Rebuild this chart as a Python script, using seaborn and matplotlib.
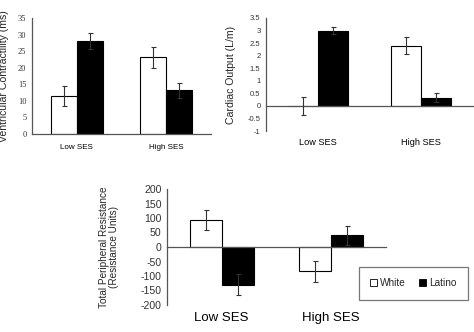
import matplotlib
matplotlib.use("Agg")
import matplotlib.pyplot as plt
import seaborn as sns
import pandas as pd
import numpy as np
from matplotlib.patches import Patch

sns.set_style("white")
plt.rcParams['font.family'] = ['Liberation Sans', 'DejaVu Sans']

groups = ["Low SES", "High SES"]
ethnicity = ["White", "Latino"]

vc_white = [11.5, 23.2]
vc_latino = [28.0, 13.2]
vc_white_err = [3.0, 3.2]
vc_latino_err = [2.5, 2.3]

co_white = [0.0, 2.4]
co_latino = [3.0, 0.33]
co_white_err = [0.35, 0.35]
co_latino_err = [0.15, 0.17]

tpr_white = [92, -84]
tpr_latino = [-130, 40]
tpr_white_err = [35, 35]
tpr_latino_err = [37, 33]

vc_ticks = [0, 5, 10, 15, 20, 25, 30, 35]
co_ticks = [-1, -0.5, 0, 0.5, 1, 1.5, 2, 2.5, 3, 3.5]
tpr_ticks = [-200, -150, -100, -50, 0, 50, 100, 150, 200]

palette = {"White": "white", "Latino": "black"}


def make_df(w, l, we, le):
    return pd.DataFrame({
        "group": groups * 2,
        "eth": ["White"] * 2 + ["Latino"] * 2,
        "val": list(w) + list(l),
        "err": list(we) + list(le),
    })


fig = plt.figure(figsize=(4.74, 3.32), dpi=100)
W, H = 474, 332


def add_ax(l, r, t, b):
    return fig.add_axes([l / W, (H - b) / H, (r - l) / W, (b - t) / H])


def draw(ax, df, ylim, ticks, tick_font, tick_size, cat_size, zero_axis):
    sns.barplot(data=df, x="group", y="val", hue="eth", order=groups,
                hue_order=ethnicity, palette=palette, width=0.58,
                edgecolor="black", linewidth=0.8, errorbar=None, ax=ax,
                legend=False, saturation=1)
    for cont, eth in zip(ax.containers, ethnicity):
        sub = df[df.eth == eth].set_index("group").loc[groups]
        xs = [p.get_x() + p.get_width() / 2 for p in cont.patches]
        ax.errorbar(xs, sub["val"].values, yerr=sub["err"].values, fmt="none",
                    ecolor="#333333", elinewidth=0.8, capsize=1.8, capthick=0.8,
                    zorder=5)
    ax.set_xlim(-0.5, 1.5)
    ax.set_ylim(*ylim)
    ax.set_yticks(ticks)
    ax.set_yticklabels([f"{t:g}" for t in ticks], fontfamily=tick_font,
                       fontsize=tick_size)
    ax.tick_params(axis="y", direction="out", length=2.5, width=0.8,
                   colors="#333333", pad=1.5)
    for s in ["top", "right"]:
        ax.spines[s].set_visible(False)
    for s in ["left", "bottom"]:
        ax.spines[s].set_color("#555555")
        ax.spines[s].set_linewidth(0.9)
    ax.set_xlabel("")
    if zero_axis:
        ax.spines["bottom"].set_position(("data", 0))
        ax.set_xticks([0.5, 1.5])
        ax.set_xticklabels([])
        ax.tick_params(axis="x", direction="out", length=2.5, width=0.8,
                       colors="#555555")
        sec = ax.secondary_xaxis(0)
        sec.set_xticks([0, 1])
        sec.set_xticklabels(groups, fontsize=cat_size, color="black")
        sec.spines["bottom"].set_visible(False)
        sec.tick_params(length=0, pad=5)
    else:
        ax.set_xticks([0, 0.5, 1, 1.5])
        ax.set_xticklabels([groups[0], "", groups[1], ""], fontsize=cat_size)
        for i, tk in enumerate(ax.xaxis.get_major_ticks()):
            if i % 2 == 0:
                tk.tick1line.set_visible(False)
        ax.tick_params(axis="x", direction="out", length=2.5, width=0.8,
                       colors="#555555", labelcolor="black", pad=5)


ax1 = add_ax(32, 211, 18, 134)
draw(ax1, make_df(vc_white, vc_latino, vc_white_err, vc_latino_err),
     (0, 35), vc_ticks, "Liberation Serif", 6.0, 5.8, False)
ax1.set_ylabel("Ventricular Contractility (ms)", fontsize=7.6)
ax1.yaxis.set_label_coords(-0.13, 0.5)

ax2 = add_ax(266, 473, 18, 131)
draw(ax2, make_df(co_white, co_latino, co_white_err, co_latino_err),
     (-1, 3.5), co_ticks, "Liberation Sans", 5.5, 6.6, True)
ax2.set_ylabel("Cardiac Output (L/m)", fontsize=7.6)
ax2.yaxis.set_label_coords(-0.145, 0.5)

ax3 = add_ax(167, 386, 189, 305)
draw(ax3, make_df(tpr_white, tpr_latino, tpr_white_err, tpr_latino_err),
     (-200, 200), tpr_ticks, "Liberation Sans", 7.6, 9.5, True)
ax3.set_ylabel("Total Peripheral Resistance\n(Resistance Units)", fontsize=7.2,
               linespacing=1.0)
ax3.yaxis.set_label_coords(-0.22, 0.5)

handles = [Patch(facecolor=palette[e], edgecolor="black", linewidth=0.6,
                 label=e) for e in ethnicity]
leg = fig.legend(handles=handles, loc="center", ncol=2,
                 bbox_to_anchor=(413.5 / W, (H - 283) / H), fontsize=7.2,
                 frameon=True, fancybox=False, handlelength=0.7,
                 handleheight=0.7, handletextpad=0.3, columnspacing=1.3,
                 borderpad=1.15, borderaxespad=0)
leg.get_frame().set_edgecolor("#555555")
leg.get_frame().set_linewidth(0.9)

fig.savefig("out.png", dpi=100)
